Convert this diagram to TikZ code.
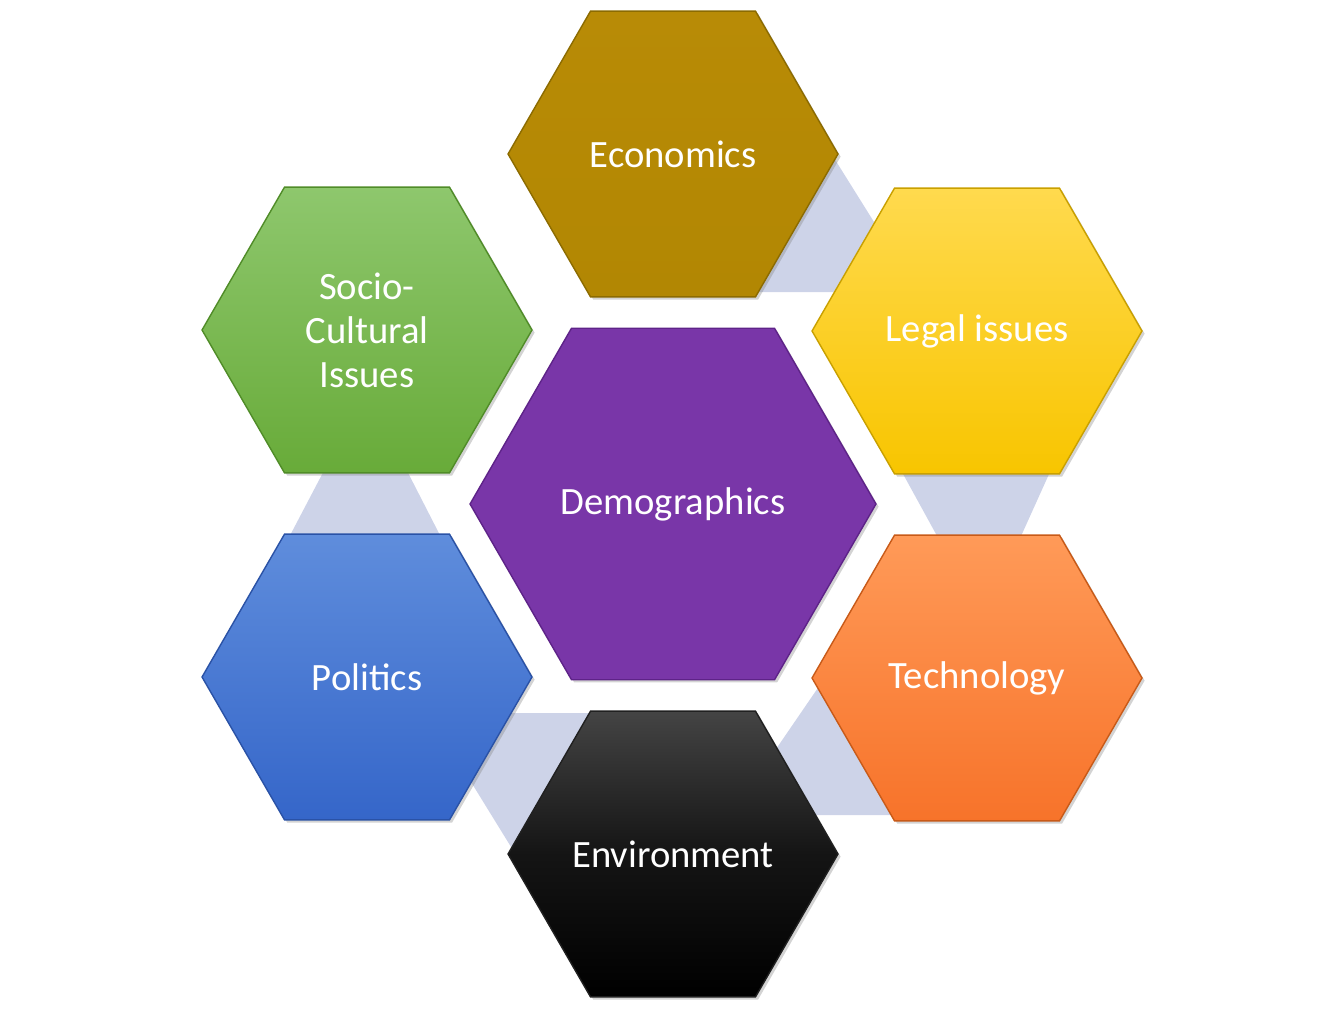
\documentclass[tikz,border=0pt]{standalone}
\usepackage{fontspec}
\setmainfont{Carlito}
\usetikzlibrary{shapes.geometric,shadows}
\definecolor{bandblue}{HTML}{CDD3E8}
\definecolor{econtop}{HTML}{B88B06}
\definecolor{econbot}{HTML}{B28703}
\definecolor{econline}{HTML}{8C6B00}
\definecolor{legaltop}{HTML}{FFDA4E}
\definecolor{legalbot}{HTML}{F8C500}
\definecolor{legalline}{HTML}{C9A000}
\definecolor{techtop}{HTML}{FF9A58}
\definecolor{techbot}{HTML}{F7732A}
\definecolor{techline}{HTML}{C85A18}
\definecolor{envtop}{HTML}{444444}
\definecolor{envbot}{HTML}{000000}
\definecolor{envline}{HTML}{202020}
\definecolor{poltop}{HTML}{5F8DDC}
\definecolor{polbot}{HTML}{3566C9}
\definecolor{polline}{HTML}{2A52A6}
\definecolor{sociotop}{HTML}{8EC76D}
\definecolor{sociobot}{HTML}{68AB39}
\definecolor{socioline}{HTML}{508C28}
\definecolor{demofill}{HTML}{7936A8}
\definecolor{demoline}{HTML}{5E2388}
\tikzset{
  hexcell/.style={regular polygon,regular polygon sides=6,minimum size=6.6cm,inner sep=0pt,
    text=white,align=center,font=\fontsize{22}{25}\selectfont,line width=0.8pt,
    drop shadow={shadow xshift=1.5pt,shadow yshift=-1.5pt,opacity=0.35}},
  hexshade/.style n args={3}{top color=#1,bottom color=#2,draw=#3},
  band/.style={fill=bandblue,draw=none}
}

\begin{document}
\begin{tikzpicture}[x=0.02cm,y=-0.02cm]
  \useasboundingbox (0,0) rectangle (1344,1008);

  % bands behind the cells
  \fill[band] (829,150) -- (879,230) -- (845,292) -- (750,292) -- (780,200) -- cycle;
  \fill[band] (897,463) -- (1054,463) -- (1017,545) -- (942,545) -- cycle;
  \fill[band] (774,752) -- (824,679) -- (900,815) -- (808,815) -- cycle;
  \fill[band] (500,713) -- (600,713) -- (560,800) -- (516,855) -- (463,769) -- cycle;
  \fill[band] (328,463) -- (403,463) -- (445,545) -- (285,545) -- cycle;

  % outer cells
  \node[hexcell,hexshade={econtop}{econbot}{econline}] (econ) at (673,154) {Economics};
  \node[hexcell,hexshade={legaltop}{legalbot}{legalline}] (legal) at (977,331) {Legal issues};
  \node[hexcell,hexshade={techtop}{techbot}{techline}] (tech) at (977,678) {Technology};
  \node[hexcell,hexshade={envtop}{envbot}{envline},middle color=black!92] (env) at (673,854) {Environment};
  \node[hexcell,hexshade={poltop}{polbot}{polline}] (pol) at (367,677) {Politics};
  \node[hexcell,hexshade={sociotop}{sociobot}{socioline}] (socio) at (367,330) {Socio-\\Cultural\\Issues};

  % centre cell
  \node[hexcell,minimum size=8.12cm,fill=demofill,draw=demoline] (demo) at (673,504) {Demographics};
\end{tikzpicture}
\end{document}
